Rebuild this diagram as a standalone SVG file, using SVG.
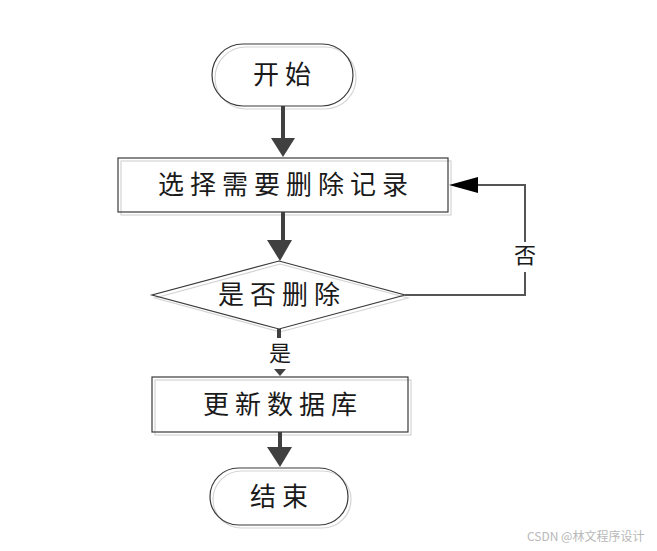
<svg xmlns="http://www.w3.org/2000/svg" width="657" height="551" viewBox="0 0 657 551">
<defs>
<style>
.shape{fill:none;stroke:#3a3a3a;stroke-width:1.2}
.shadow{fill:none;stroke:#d4d4d4;stroke-width:1.2}
.lbl{font-family:"Liberation Serif","Noto Sans CJK SC",serif;font-size:26px;fill:#1a1a1a;text-anchor:middle;letter-spacing:6px}
.small{font-family:"Liberation Serif","Noto Sans CJK SC",serif;font-size:22px;fill:#1a1a1a;text-anchor:middle}
.wire{fill:none;stroke:#404040;stroke-width:4}
.thin{fill:none;stroke:#555555;stroke-width:2}
.head{fill:#404040}
.wm{font-family:"Noto Sans CJK SC",sans-serif;font-size:12px;fill:#b8b8b8}
</style>
</defs>
<rect width="657" height="551" fill="#ffffff"/>
<g id="start">
<rect class="shadow" x="215" y="47" width="141" height="62" rx="31"/>
<rect class="shape" x="212" y="44" width="141" height="62" rx="31"/>
<text class="lbl" x="285" y="84">开始</text>
</g>
<g id="select">
<rect class="shadow" x="121" y="161" width="330" height="54"/>
<rect class="shape" x="118" y="158" width="330" height="54"/>
<text class="lbl" x="286" y="194">选择需要删除记录</text>
</g>
<g id="decide">
<polygon class="shadow" points="280,264 408,298 280,332 155,298"/>
<polygon class="shape" points="279,261 405,295 279,329 152,295"/>
<text class="lbl" x="282" y="304">是否删除</text>
</g>
<g id="update">
<rect class="shadow" x="155" y="380" width="256" height="55"/>
<rect class="shape" x="152" y="377" width="256" height="55"/>
<text class="lbl" x="283" y="414">更新数据库</text>
</g>
<g id="end">
<rect class="shadow" x="213" y="471" width="138" height="57" rx="28.5"/>
<rect class="shape" x="210" y="468" width="138" height="57" rx="28.5"/>
<text class="lbl" x="282" y="506">结束</text>
</g>
<g id="connectors">
<line class="wire" x1="283" y1="106" x2="283" y2="140"/>
<polygon class="head" points="271,138 295,138 283,157"/>
<line class="wire" x1="283" y1="212" x2="283" y2="242"/>
<polygon class="head" points="267,240 292,240 280,261"/>
<line class="wire" x1="279" y1="329" x2="279" y2="338"/>
<text class="small" x="280" y="361">是</text>
<polygon class="head" points="274,369 286,369 280,376"/>
<line class="wire" x1="280" y1="432" x2="280" y2="449"/>
<polygon class="head" points="267,447 292,447 280,467"/>
<polyline class="thin" points="405,295 525,295 525,272"/>
<polyline class="thin" points="525,242 525,185 476,185"/>
<polygon fill="#000000" points="478,177 478,193 449,185"/>
<text class="small" x="525" y="263">否</text>
</g>
<text class="wm" x="527" y="541">CSDN @林文程序设计</text>
</svg>
